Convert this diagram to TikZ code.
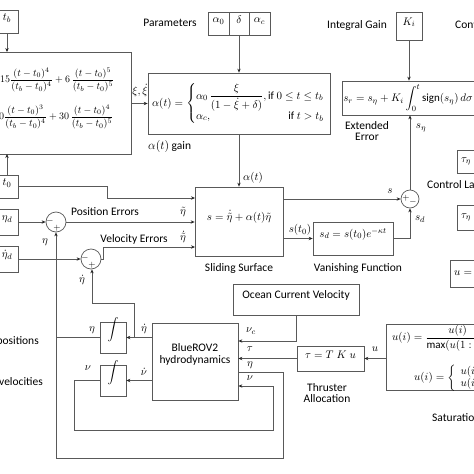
\documentclass[tikz,border=0pt]{standalone}
\usepackage{amsmath}
\usepackage{fontspec}
\setmainfont{Carlito}
\usetikzlibrary{arrows.meta,fit}
\newcommand\rbox[6]{\node[bx,fit={(#2,#3) (#4,#5)}] (#1) {#6};}
\begin{document}
\begin{tikzpicture}[x=1pt,y=-1pt,
 bx/.style={draw=black!65,line width=0.7pt,inner sep=0pt,font=\fontsize{11}{12}\selectfont},
 ln/.style={draw=black!65,line width=0.7pt},
 ar/.style={ln,-{Stealth[length=4pt,width=3.4pt,color=black!85]}},
 lb/.style={inner sep=1pt,font=\fontsize{11.5}{13}\selectfont},
 ml/.style={inner sep=1pt,font=\fontsize{11}{12}\selectfont},
 sm/.style={circle,draw=black!65,line width=0.7pt,minimum size=20pt,inner sep=0pt}]
\useasboundingbox (0,0) rectangle (474,474);
\clip (0,0) rectangle (474,474);
\fill[white] (0,0) rectangle (474,474);
% boxes
\rbox{tb}{-4}{10}{18}{33}{$t_b$}
\rbox{big}{-60}{52}{131}{154}{}
\node[ml,font=\fontsize{10}{12}\selectfont,anchor=west] (eq1) at (-1,80) {$15\dfrac{(t-t_0)^4}{(t_b-t_0)^4}+6\,\dfrac{(t-t_0)^5}{(t_b-t_0)^5}$};
\node[ml,font=\fontsize{10}{12}\selectfont,anchor=west] (eq2) at (-2,117) {$0\dfrac{(t-t_0)^3}{(t_b-t_0)^4}+30\,\dfrac{(t-t_0)^4}{(t_b-t_0)^5}$};
\rbox{t0}{-4}{175}{18}{198}{$t_0$}
\rbox{etad}{-4}{209}{18}{235}{$\eta_d$}
\rbox{detad}{-4}{246}{18}{272}{$\dot\eta_d$}
\rbox{pa}{208}{12}{229}{35}{$\alpha_0$}
\rbox{pd}{229}{12}{249}{35}{$\delta$}
\rbox{pc}{249}{12}{270}{35}{$\alpha_c$}
\rbox{alpha}{148}{73}{330}{134}{}
\node[ml,anchor=west] (alphaeq) at (151,103.5) {$\alpha(t)=\left\{\begin{array}{@{}l@{}l@{}}\alpha_0\,\dfrac{\xi}{(1-\dot\xi+\delta)},&\,\text{if } 0\le t\le t_b\\[7pt] \alpha_c,&\qquad\text{if } t>t_b\end{array}\right.$};
\rbox{ki}{396}{12}{422}{40}{$K_i$}
\rbox{ext}{342}{81}{490}{115}{}
\node[ml] (exteq) at (408,98) {$s_r=s_\eta+K_i\displaystyle\int_0^t\mathrm{sign}(s_\eta)\,d\sigma$};
\rbox{taueta}{457}{150}{490}{173}{}
\node[ml,anchor=west] (tauetat) at (460,161.5) {$\tau_\eta$};
\rbox{taunu}{457}{205}{490}{230}{}
\node[ml,anchor=west] (taunut) at (460,217.5) {$\tau_\eta$};
\rbox{ubox}{450}{260}{490}{287}{}
\node[ml,anchor=west] (ut) at (453,273.5) {$u=$};
\rbox{slide}{195}{187}{283}{256}{$s=\dot{\tilde\eta}+\alpha(t)\tilde\eta$}
\rbox{van}{313}{222}{393}{255}{$s_d=s(t_0)e^{-\kappa t}$}
\rbox{ocean}{233}{284}{359}{315}{\fontsize{11.5}{13}\selectfont Ocean Current Velocity}
\rbox{rov}{152}{323}{238}{400}{\parbox{84pt}{\centering\fontsize{11.5}{13}\selectfont BlueROV2\\[-1pt] hydrodynamics}}
\rbox{ieta}{100}{322}{126}{353}{$\displaystyle\int$}
\rbox{inu}{100}{365}{126}{396}{$\displaystyle\int$}
\rbox{thr}{297}{346}{364}{371}{$\tau=T\;K\;u$}
\rbox{sat}{386}{324}{490}{390}{}
\node[ml,anchor=west] (sat1) at (391,338) {$u(i)=\dfrac{u(i)}{\max(u(1:4))}$};
\node[ml,anchor=west] (sat2) at (413,378) {$u(i)=\left\{\begin{array}{l}u(i)\\u(i)\cdot\end{array}\right.$};
% sums
\node[sm] (P) at (56,222) {};
\node[sm] (V) at (91,259) {};
\node[sm,minimum size=18pt] (R) at (410,199) {};
\node[inner sep=0pt,font=\small] (Pm) at (50,221) {$-$};
\node[inner sep=0pt,font=\small] (Pp) at (57,228) {$+$};
\node[inner sep=0pt,font=\small] (Vm) at (85,258) {$-$};
\node[inner sep=0pt,font=\small] (Vp) at (92,265) {$+$};
\node[inner sep=0pt,font=\small] (Rp) at (406,198) {$+$};
\node[inner sep=0pt,font=\small] (Rm) at (413,202) {$-$};
% connectors
\draw[ar] (tb.south -| 7,0) -- (7,52);
\draw[ar] (t0.north -| 7,0) -- (7,154);
\draw[ar] (big.east |- alpha.west) -- (alpha.west);
\draw[ar] (pd.south) -- (alpha.north -| pd.south);
\draw[ar] (alpha.south) -- (slide.north);
\draw[ar] (t0.east) -- (107,186.5) -- (107,198) -- (195,198);
\draw[ar] (etad.east) -- (P.west);
\draw[ar] (P.east) -- (P.east -| slide.west);
\draw[ar] (detad.east) -- (V.west);
\draw[ar] (V.east) -- (103,259) -- (103,247) -- (195,247);
\draw[ar] (ki.south) -- (ki.south |- ext.north);
\draw[ar] (R.north) -- (R.north |- ext.south);
\draw[ar] (slide.east |- R.west) -- (R.west);
\draw[ar] (slide.east |- van.west) -- (van.west);
\draw[ar] (van.east) -- (R.south |- van.east) -- (R.south);
\draw[ar] (sat.west |- thr.east) -- (thr.east);
\draw[ar] (thr.west) -- (rov.east |- thr.west);
\draw[ar] (ocean.south) -- (ocean.south |- 0,341) -- (rov.east |- 0,341);
\draw[ar] (rov.east |- 0,372) -- (283,372) -- (283,458) -- (56,458) -- (P.south);
\draw[ln] (ieta.west) -- (56,337.5);
\draw[ar] (inu.west) -- (74,380.5) -- (74,430) -- (273,430) -- (273,386) -- (rov.east |- 0,386);
\draw[ar] (rov.west |- ieta.east) -- (ieta.east);
\draw[ar] (rov.west |- inu.east) -- (inu.east);
\draw[ar] (134,337.5) -- (134,303) -- (92,303) -- (V.south -| 92,0);
% labels
\node[ml] (lxi) at (140,90) {$\xi,\dot\xi$};
\node[lb,anchor=west] (lag) at (147,146) {$\alpha(t)$ gain};
\node[lb] (lpar) at (170,23) {Parameters};
\node[lb] (lig) at (357,25) {Integral Gain};
\node[lb,anchor=west] (lcon) at (454,25) {Control};
\node[ml] (lat) at (253,178) {$\alpha(t)$};
\node[lb,align=center] (lee) at (367,131) {Extended\\[-2pt]Error};
\node[ml] (lseta) at (421,128) {$s_\eta$};
\node[lb,anchor=west] (lcl) at (426,185) {Control Law};
\node[ml] (ls) at (390,191) {$s$};
\node[ml] (lsd) at (420,219) {$s_d$};
\node[ml] (lst0) at (300,230) {$s(t_0)$};
\node[lb] (lss) at (239,268) {Sliding Surface};
\node[lb] (lvf) at (358,268) {Vanishing Function};
\node[lb] (lpe) at (105,212) {Position Errors};
\node[lb] (lve) at (134,239) {Velocity Errors};
\node[ml] (lte) at (183,212) {$\tilde\eta$};
\node[ml] (ltde) at (183,237) {$\dot{\tilde\eta}$};
\node[ml] (leta1) at (45,242) {$\eta$};
\node[ml] (ldeta1) at (82,280) {$\dot\eta$};
\node[ml] (leta2) at (92,330) {$\eta$};
\node[ml] (lnu2) at (88,368) {$\nu$};
\node[ml] (ldeta2) at (144,329) {$\dot\eta$};
\node[ml] (ldnu2) at (144,372) {$\dot\nu$};
\node[ml] (lnuc) at (251,331) {$\nu_c$};
\node[ml] (ltau) at (250,349) {$\tau$};
\node[ml] (leta3) at (250,365) {$\eta$};
\node[ml] (lnu3) at (250,378) {$\nu$};
\node[ml] (lu) at (375,349) {$u$};
\node[lb,align=center] (lta) at (327,393) {Thruster\\[-2pt]Allocation};
\node[lb,anchor=west] (lsat) at (431,418) {Saturation};
\node[lb,anchor=east] (lpos) at (40,341) {positions};
\node[lb,anchor=east] (lvel) at (44,382) {velocities};
\end{tikzpicture}
\end{document}
